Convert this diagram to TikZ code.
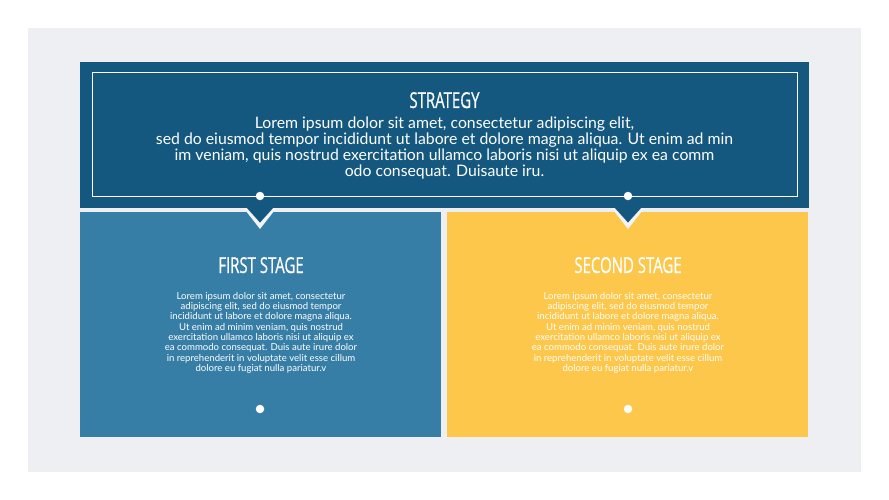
\documentclass[tikz,border=0pt]{standalone}
\usepackage{fontspec}
\setmainfont{Lato}
\newfontfamily\titlefont[FakeStretch=0.68,FakeBold=0.6]{Open Sans}
\definecolor{bgpanel}{HTML}{EDEFF2}
\definecolor{gapc}{HTML}{F1F3F6}
\definecolor{darkblue}{HTML}{15587F}
\definecolor{midblue}{HTML}{377EA6}
\definecolor{gold}{HTML}{FCC74A}
\tikzset{
  boxfill/.style={draw=none},
  ttl/.style={text=white,font=\titlefont\fontsize{22}{24}\selectfont,inner sep=0pt,anchor=base},
  bodytext/.style={text=white,font=\fontsize{15.8}{15.8}\selectfont,align=center,inner sep=0pt,anchor=north},
  smalltext/.style={text=white,font=\fontsize{9.6}{10.3}\selectfont,align=center,inner sep=0pt,anchor=north},
  wdot/.style={circle,fill=white,draw=none,minimum size=8.5pt,inner sep=0pt},
}
\begin{document}
\begin{tikzpicture}[x=1pt,y=-1pt]
\useasboundingbox (0,0) rectangle (889,500);
\fill[white] (0,0) rectangle (889,500);
\fill[bgpanel] (28,28) rectangle (861,472);
% lower boxes
\node[boxfill,fill=midblue,minimum width=361pt,minimum height=225pt,inner sep=0pt,anchor=north west] (first) at (80,212) {};
\node[boxfill,fill=gold,minimum width=361pt,minimum height=225pt,inner sep=0pt,anchor=north west] (second) at (447,212) {};
% chevrons
\foreach \cx/\nm in {260/c1,628/c2}{
  \fill[gapc] (\cx-18,200) -- (\cx+18,200) -- (\cx+18,206) -- (\cx,229) -- (\cx-18,206) -- cycle;
  \fill[darkblue] (\cx-14,200) -- (\cx+14,200) -- (\cx,222.5) -- cycle;
}
% top box
\node[boxfill,fill=darkblue,minimum width=729pt,minimum height=145.5pt,inner sep=0pt,anchor=north west] (top) at (80,62) {};
\draw[white,line width=1pt] (92,73) rectangle (797,196);
\fill[darkblue] (260-14,207) -- (260+14,207) -- (260,222.5) -- cycle;
\fill[darkblue] (628-14,207) -- (628+14,207) -- (628,222.5) -- cycle;
\node[wdot] (d1) at (260,196) {};
\node[wdot] (d2) at (628,196) {};
\node[wdot] (d3) at (260,409) {};
\node[wdot] (d4) at (628,409) {};
% texts
\node[ttl] (t0) at (444.5,108) {STRATEGY};
\node[bodytext] (b0) at (444.5,117) {Lorem ipsum dolor sit amet, consectetur adipiscing elit,\\sed do eiusmod tempor incididunt ut labore et dolore magna aliqua. Ut enim ad min\\im veniam, quis nostrud exercitation ullamco laboris nisi ut aliquip ex ea comm\\odo consequat. Duisaute iru.};
\node[ttl] (t1) at (261,273) {FIRST STAGE};
\node[smalltext] (b1) at (261,292) {Lorem ipsum dolor sit amet, consectetur\\adipiscing elit, sed do eiusmod tempor\\incididunt ut labore et dolore magna aliqua.\\Ut enim ad minim veniam, quis nostrud\\exercitation ullamco laboris nisi ut aliquip ex\\ea commodo consequat. Duis aute irure dolor\\in reprehenderit in voluptate velit esse cillum\\dolore eu fugiat nulla pariatur.v};
\node[ttl] (t2) at (628,273) {SECOND STAGE};
\node[smalltext] (b2) at (628,292) {Lorem ipsum dolor sit amet, consectetur\\adipiscing elit, sed do eiusmod tempor\\incididunt ut labore et dolore magna aliqua.\\Ut enim ad minim veniam, quis nostrud\\exercitation ullamco laboris nisi ut aliquip ex\\ea commodo consequat. Duis aute irure dolor\\in reprehenderit in voluptate velit esse cillum\\dolore eu fugiat nulla pariatur.v};
\end{tikzpicture}
\end{document}
